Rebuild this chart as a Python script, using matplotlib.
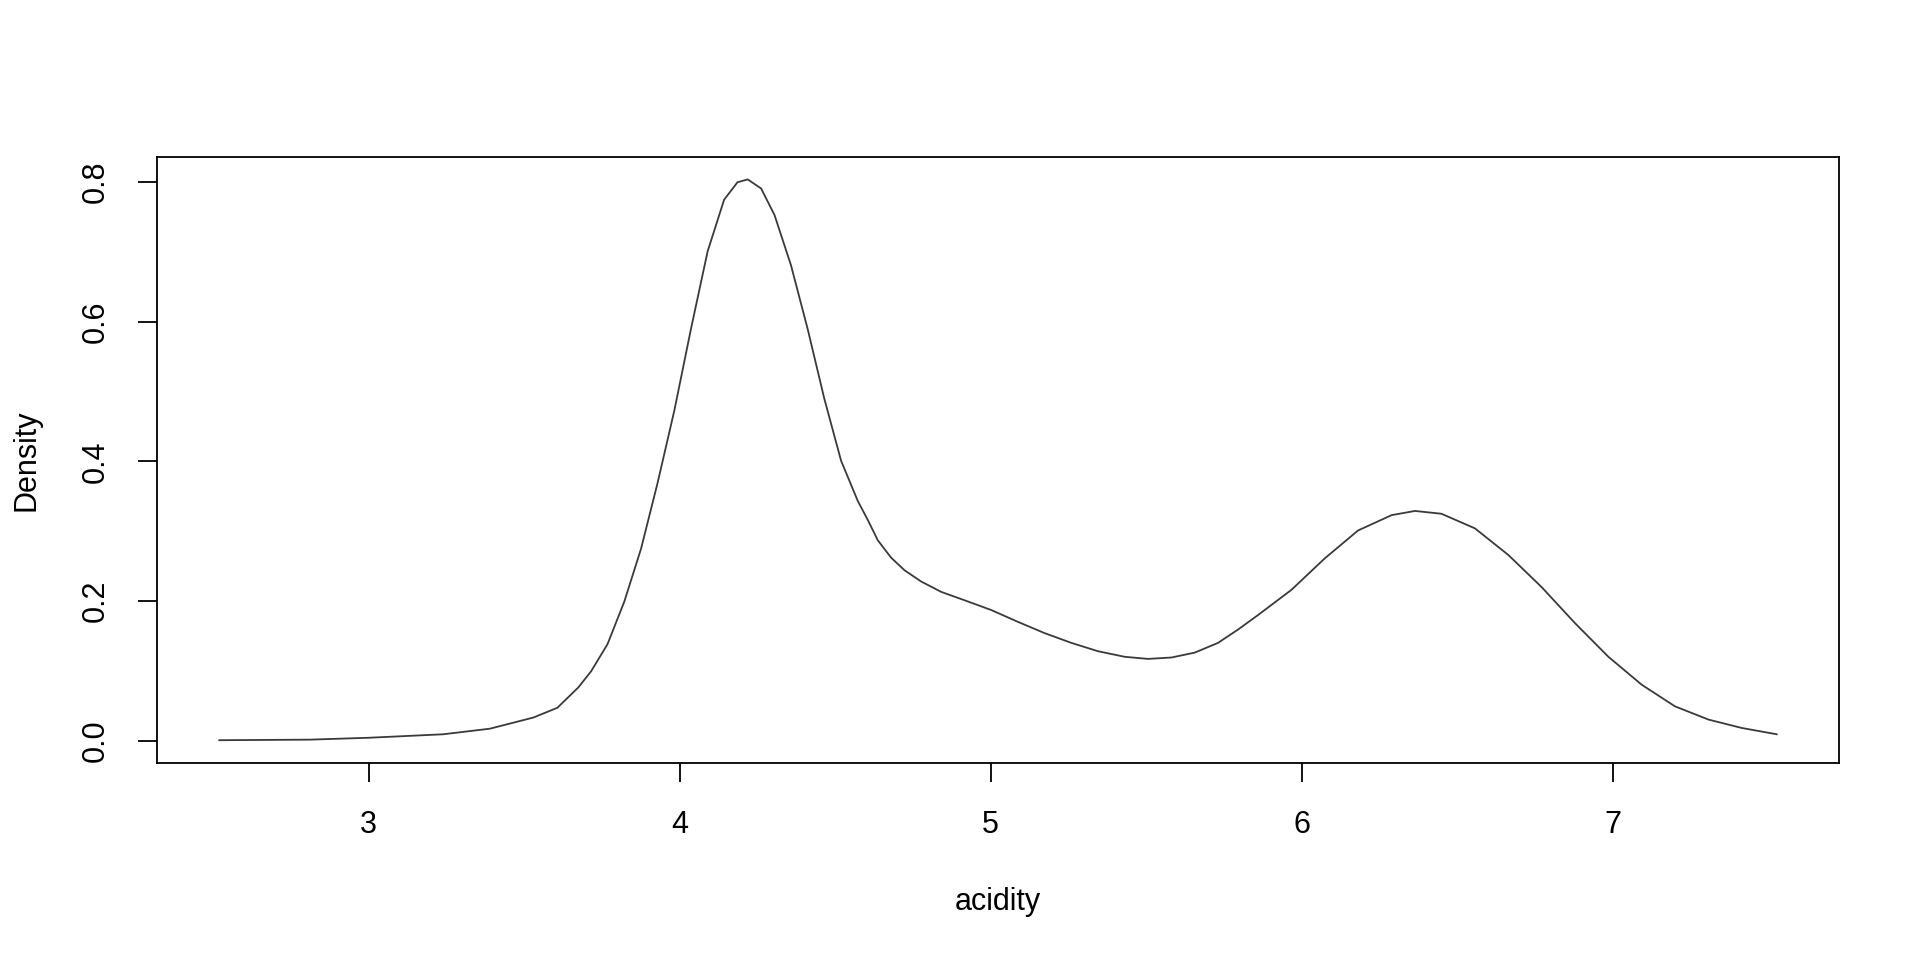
import matplotlib
matplotlib.use("Agg")
import matplotlib.pyplot as plt

# density curve
acidity = [2.52, 2.81, 3.0, 3.24, 3.39, 3.53, 3.607, 3.674, 3.715, 3.768,
           3.822, 3.876, 3.929, 3.983, 4.036, 4.09, 4.143, 4.186, 4.219,
           4.262, 4.305, 4.358, 4.412, 4.465, 4.519, 4.573, 4.605, 4.637,
           4.68, 4.723, 4.776, 4.841, 4.916, 5.002, 5.088, 5.173, 5.259,
           5.345, 5.431, 5.506, 5.581, 5.656, 5.731, 5.795, 5.86, 5.967,
           6.074, 6.181, 6.289, 6.364, 6.449, 6.557, 6.664, 6.771, 6.879,
           6.986, 7.093, 7.2, 7.308, 7.415, 7.527]
density = [0.0005, 0.0013, 0.004, 0.009, 0.017, 0.033, 0.047, 0.076, 0.099,
           0.138, 0.199, 0.275, 0.369, 0.473, 0.589, 0.701, 0.775, 0.800,
           0.804, 0.791, 0.753, 0.681, 0.589, 0.490, 0.401, 0.343, 0.316,
           0.287, 0.262, 0.244, 0.228, 0.213, 0.201, 0.187, 0.170, 0.154,
           0.140, 0.128, 0.120, 0.117, 0.119, 0.126, 0.140, 0.159, 0.180,
           0.216, 0.261, 0.301, 0.323, 0.329, 0.325, 0.304, 0.266, 0.220,
           0.168, 0.120, 0.080, 0.049, 0.030, 0.018, 0.009]

xticks = [3, 4, 5, 6, 7]
yticks = [0.0, 0.2, 0.4, 0.6, 0.8]

plt.rcParams['font.family'] = ['Liberation Sans', 'DejaVu Sans']

fig = plt.figure(figsize=(19.2, 9.6), dpi=100)
ax = fig.add_axes([157 / 1920, 1 - 763 / 960, (1839 - 157) / 1920, (763 - 157) / 960])

ax.plot(acidity, density, color='#3a3a3a', lw=1.3, solid_joinstyle='round')

# R-style 4% padding around the data range
xr = max(acidity) - min(acidity)
yr = max(density) - 0
ax.set_xlim(min(acidity) - 0.04 * xr, max(acidity) + 0.04 * xr)
ax.set_ylim(0 - 0.04 * yr, max(density) + 0.04 * yr)

ax.set_xticks(xticks)
ax.set_xticklabels([str(t) for t in xticks])
ax.set_yticks(yticks)
ax.set_yticklabels([f"{t:.1f}" for t in yticks], rotation=90, va='center')

ax.tick_params(axis='both', direction='out', length=14, width=1.3,
               labelsize=22, color='black')
ax.tick_params(axis='x', pad=20)
ax.tick_params(axis='y', pad=19)
for s in ax.spines.values():
    s.set_linewidth(1.3)

fig.text(998 / 1920, 1 - 910 / 960, "acidity", ha='center', va='baseline', fontsize=22)
fig.text(27 / 1920, 1 - 460 / 960, "Density", ha='center', va='center',
         rotation=90, fontsize=22)

fig.savefig("out.png", dpi=100, facecolor='white')
